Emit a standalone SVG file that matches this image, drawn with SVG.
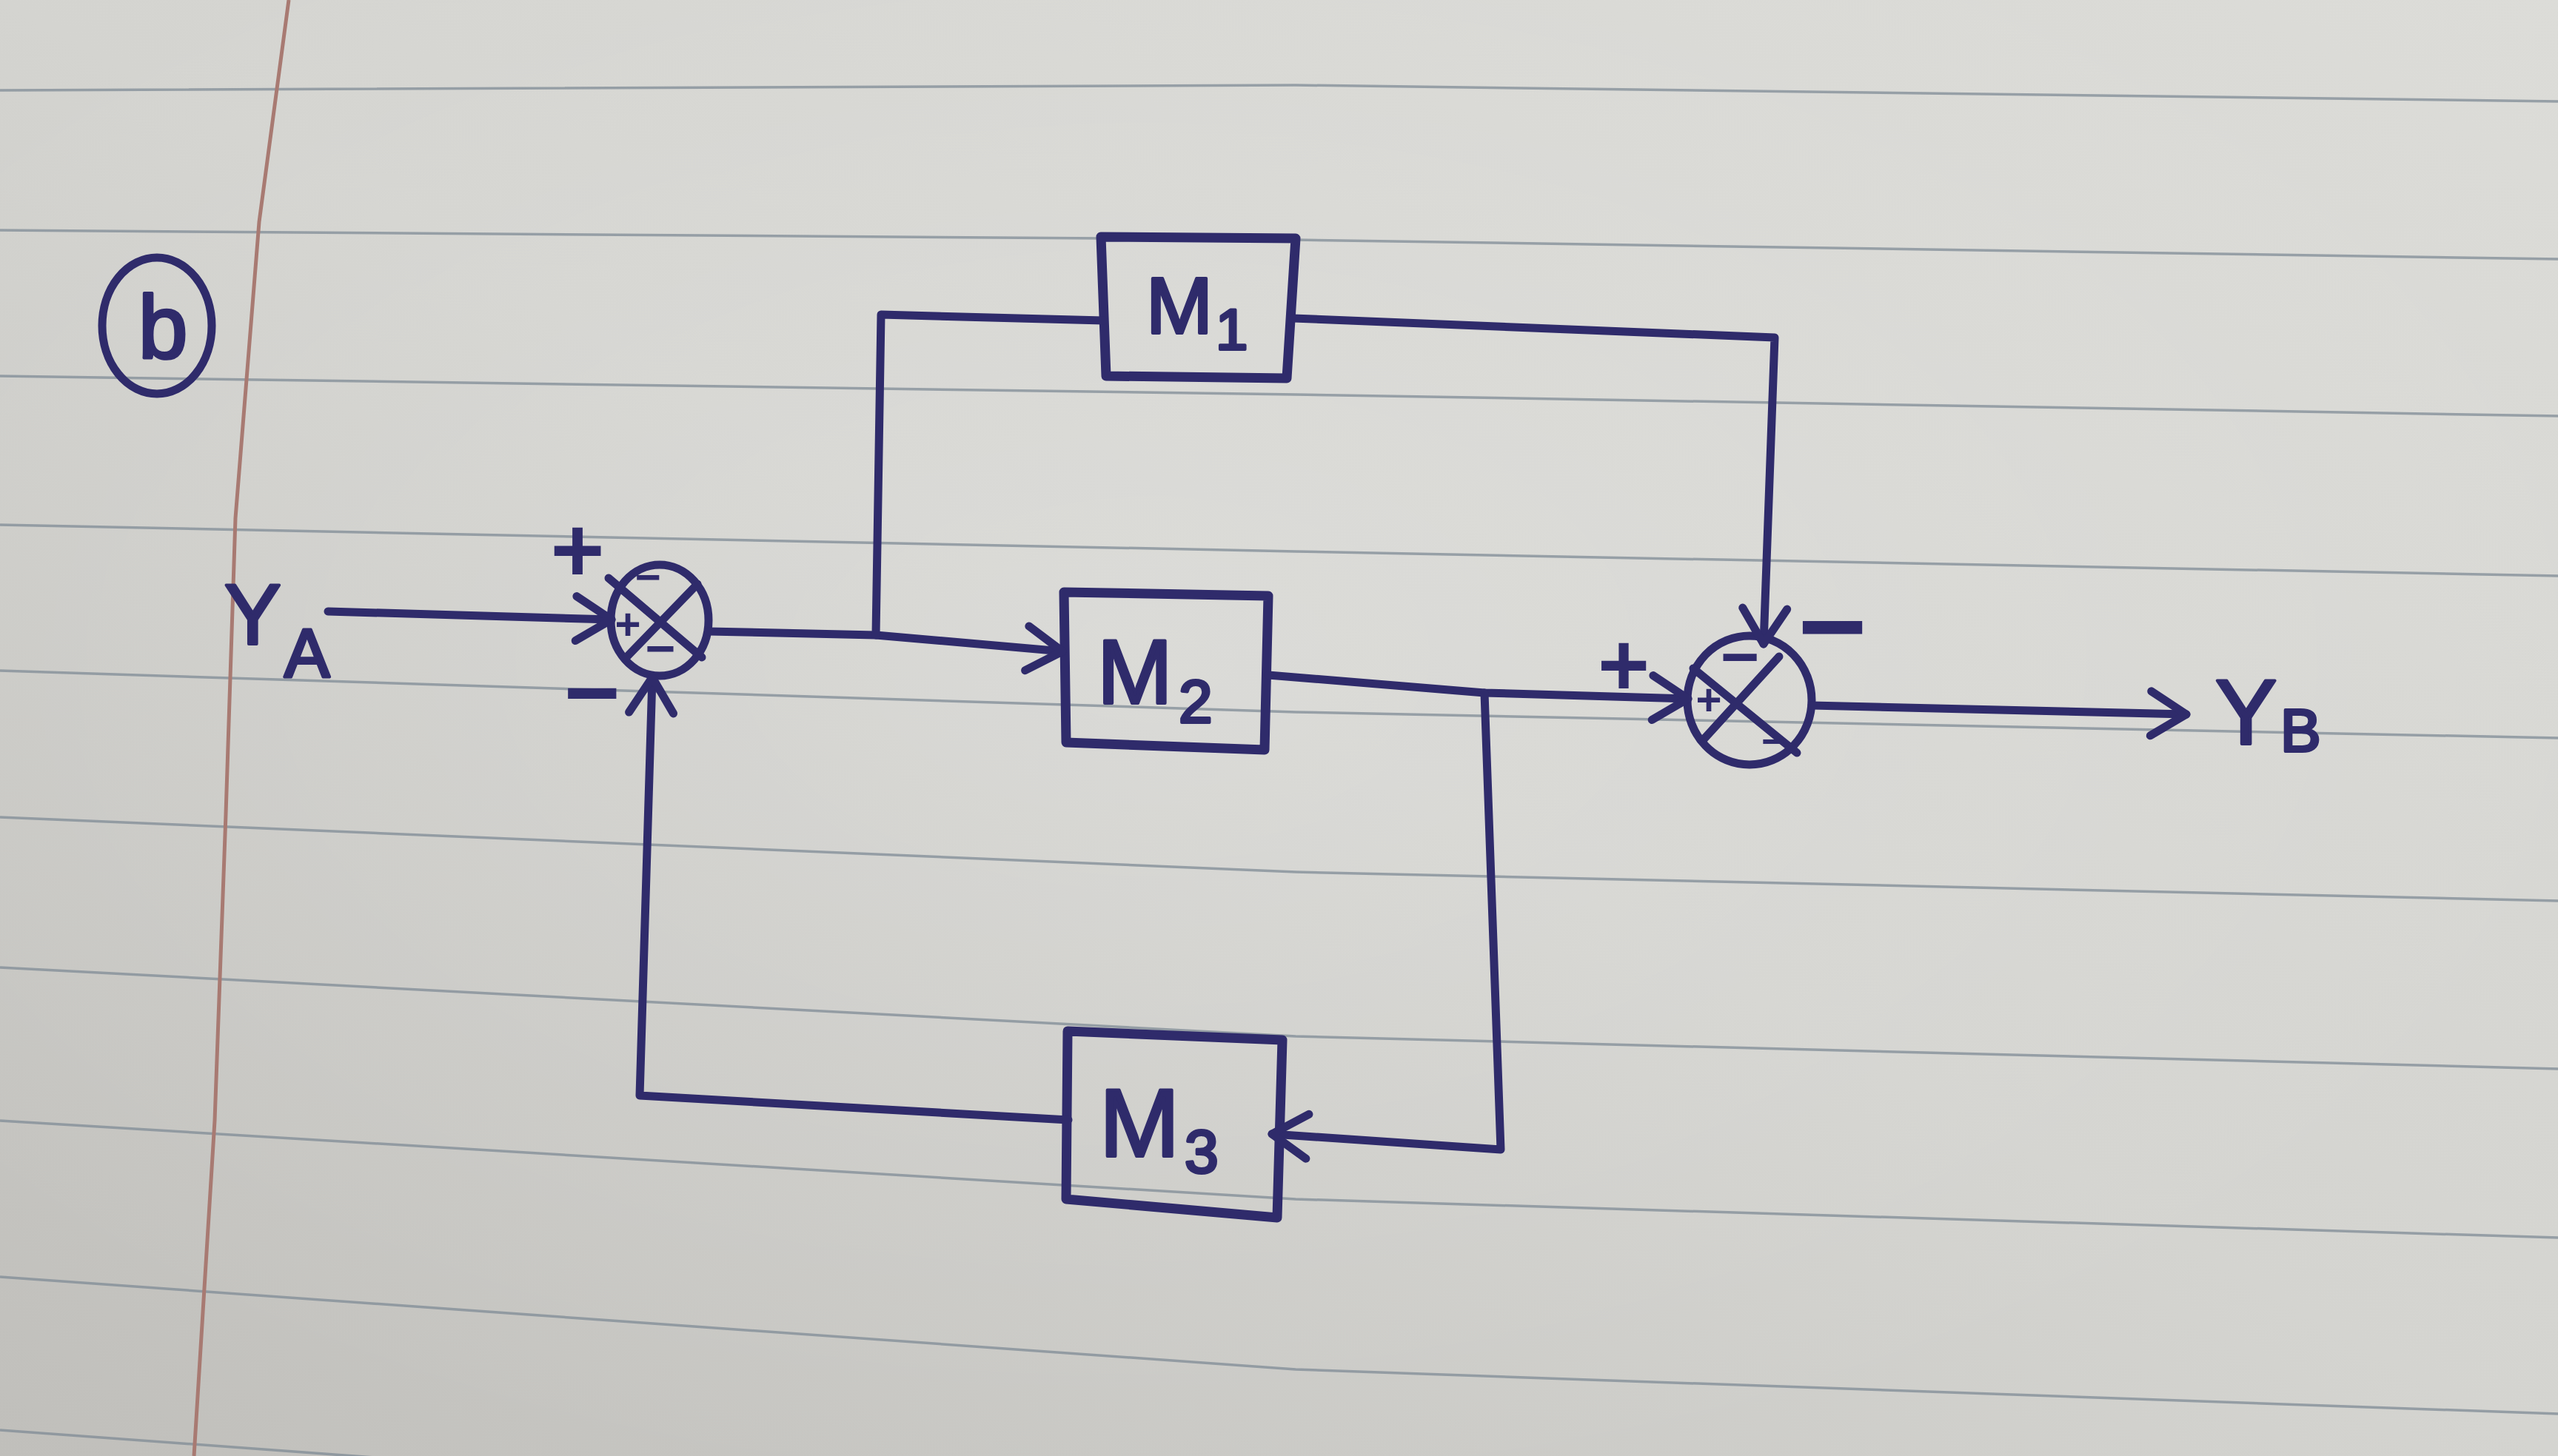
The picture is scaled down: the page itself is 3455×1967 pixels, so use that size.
<svg xmlns="http://www.w3.org/2000/svg" width="3455" height="1967" viewBox="0 0 3455 1967">
<defs>
<linearGradient id="paper" x1="1" y1="0" x2="0" y2="1">
<stop offset="0" stop-color="#dcdcd8"/>
<stop offset="0.5" stop-color="#d4d4d0"/>
<stop offset="1" stop-color="#c0bfbb"/>
</linearGradient>
<radialGradient id="light" cx="0.45" cy="0.45" r="0.6">
<stop offset="0" stop-color="#ffffff" stop-opacity="0.16"/>
<stop offset="1" stop-color="#ffffff" stop-opacity="0"/>
</radialGradient>
<marker id="arr" markerUnits="userSpaceOnUse" viewBox="-70 -45 80 90" markerWidth="80" markerHeight="90" refX="0" refY="0" orient="auto">
<path d="M-48,-30 L0,0 L-48,30" fill="none" stroke="#2f2b6b" stroke-width="11" stroke-linecap="round" stroke-linejoin="round"/>
</marker>
</defs>
<style>
.rule{fill:none;stroke:#7f8b96;stroke-width:3.5;stroke-opacity:0.75}
.margin{fill:none;stroke:#a87a72;stroke-width:5}
.ink{fill:none;stroke:#2f2b6b;stroke-width:11;stroke-linecap:round;stroke-linejoin:round}
.box{fill:none;stroke:#2f2b6b;stroke-width:13;stroke-linejoin:round}
.t{font-family:"Liberation Sans",Arial,sans-serif;fill:#2f2b6b;stroke:#2f2b6b;stroke-width:4;stroke-linejoin:round}
.sg{font-family:"Liberation Sans",Arial,sans-serif;fill:#2f2b6b;font-weight:bold;text-anchor:middle}
</style>
<g id="paper-bg">
<rect x="0" y="0" width="3455" height="1967" fill="url(#paper)"/>
<rect x="0" y="0" width="3455" height="1967" fill="url(#light)"/>
<polyline class="rule" points="0,122 1750,115 3455,137"/>
<polyline class="rule" points="0,311 1750,324 3455,350"/>
<polyline class="rule" points="0,508 1750,533 3455,562"/>
<polyline class="rule" points="0,709 1750,745 3455,778"/>
<polyline class="rule" points="0,906 1750,962 3455,997"/>
<polyline class="rule" points="0,1104 1750,1178 3455,1217"/>
<polyline class="rule" points="0,1307 1750,1400 3455,1444"/>
<polyline class="rule" points="0,1514 1750,1620 3455,1672"/>
<polyline class="rule" points="0,1725 1750,1850 3455,1910"/>
<polyline class="rule" points="0,1932 1750,2060 3455,2120"/>
<polyline class="margin" points="390,0 350,300 318,700 305,1100 290,1514 262,1967"/>
</g>
<g id="label-b">
<ellipse class="ink" cx="212" cy="440" rx="74" ry="92"/>
<text class="t" x="220" y="483" font-size="120" text-anchor="middle">b</text>
</g>
<g id="input-YA">
<text class="t" x="303" y="870" font-size="115">Y</text>
<text class="t" x="384" y="915" font-size="92">A</text>
</g>
<g id="sum1">
<ellipse class="ink" cx="891" cy="838" rx="66" ry="75"/>
<line class="ink" x1="822" y1="781" x2="948" y2="888"/>
<line class="ink" x1="942" y1="789" x2="846" y2="888"/>
<text class="sg" x="848" y="864" font-size="60">+</text>
<text class="sg" x="875" y="800" font-size="60">−</text>
<text class="sg" x="892" y="900" font-size="70">−</text>
<text class="sg" x="780" y="786" font-size="125">+</text>
<text class="sg" x="800" y="980" font-size="130">−</text>
</g>
<g id="M1">
<polygon class="box" points="1487,320 1750,322 1738,511 1494,508"/>
<text class="t" x="1548" y="450" font-size="108">M</text>
<text class="t" x="1642" y="472" font-size="78">1</text>
</g>
<g id="M2">
<polygon class="box" points="1437,800 1713,805 1708,1013 1440,1003"/>
<text class="t" x="1482" y="950" font-size="122">M</text>
<text class="t" x="1592" y="976" font-size="82">2</text>
</g>
<g id="M3">
<polygon class="box" points="1442,1393 1732,1405 1725,1645 1440,1620"/>
<text class="t" x="1485" y="1562" font-size="130">M</text>
<text class="t" x="1600" y="1584" font-size="82">3</text>
</g>
<g id="sum2">
<ellipse class="ink" cx="2363" cy="946" rx="84" ry="87"/>
<line class="ink" x1="2287" y1="903" x2="2427" y2="1017"/>
<line class="ink" x1="2403" y1="887" x2="2300" y2="1000"/>
<text class="sg" x="2308" y="966" font-size="60">+</text>
<text class="sg" x="2350" y="918" font-size="90">−</text>
<text class="sg" x="2395" y="1020" font-size="55">−</text>
<text class="sg" x="2193" y="940" font-size="120">+</text>
<text class="sg" x="2475" y="901" font-size="160">−</text>
</g>
<g id="output-YB">
<text class="t" x="2992" y="1005" font-size="125">Y</text>
<text class="t" x="3080" y="1015" font-size="82">B</text>
</g>
<g id="connectors">
<path class="ink" d="M443,826 L826,837" marker-end="url(#arr)"/>
<path class="ink" d="M957,853 L1183,858 L1435,880" marker-end="url(#arr)"/>
<path class="ink" d="M1183,858 L1190,425 L1490,433"/>
<path class="ink" d="M1747,430 L2397,456 L2382,870" marker-end="url(#arr)"/>
<path class="ink" d="M1713,912 L2005,936 L2280,944" marker-end="url(#arr)"/>
<path class="ink" d="M2447,953 L2953,965" marker-end="url(#arr)"/>
<path class="ink" d="M2005,936 L2027,1553 L1718,1532" marker-end="url(#arr)"/>
<path class="ink" d="M1443,1513 L864,1480 L881,915" marker-end="url(#arr)"/>
</g>
</svg>
